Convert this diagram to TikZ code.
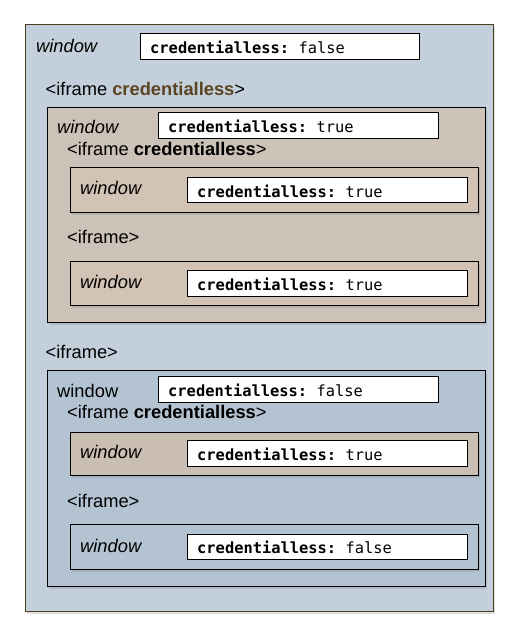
\documentclass[tikz,border=0pt]{standalone}
\usepackage{fontspec}
\setmainfont{Liberation Sans}
\newfontfamily\monof{DejaVu Sans Mono}
\usetikzlibrary{shadows}
\definecolor{outerblue}{HTML}{C3CFDB}
\definecolor{brownA}{HTML}{CDC2B8}
\definecolor{brownB}{HTML}{D3C3B4}
\definecolor{brownC}{HTML}{CBBFB4}
\definecolor{blueB}{HTML}{B3C3D2}
\definecolor{outline}{HTML}{4D3D1F}
\definecolor{kwbrown}{HTML}{5B4420}
\tikzset{
  frame/.style={draw=black, line width=0.8pt, anchor=north west, inner sep=0pt,
    drop shadow={shadow xshift=1.5pt, shadow yshift=-2.5pt, opacity=0.25}},
  valbox/.style={draw=black, fill=white, line width=0.8pt, anchor=north west, inner sep=0pt,
    minimum width=280pt, minimum height=26pt},
  lab/.style={anchor=base west, inner sep=0pt, font=\fontsize{18.3}{20}\selectfont},
  wlab/.style={lab, font=\fontsize{18.3}{20}\selectfont\itshape},
  mono/.style={anchor=base west, inner sep=0pt, font=\fontsize{15.4}{18}\selectfont\monof},
}
\newcommand{\cred}[1]{\textbf{credentialless:}~#1}
\begin{document}
\begin{tikzpicture}[x=1pt,y=-1pt]
\useasboundingbox (0,0) rectangle (504,637);
% outer window
\node[frame, draw=outline, fill=outerblue, minimum width=468pt, minimum height=587pt] (outer) at (25,24) {};
\node[valbox, minimum width=279pt] (v0) at (140,33) {};
\node[wlab] (w0) at (36,52) {window};
\node[mono] (t0) at (150,53) {\cred{false}};
\node[lab] (if1) at (45.5,95) {<iframe \textcolor{kwbrown}{\textbf{credentialless}}>};
% box 1
\node[frame, fill=brownA, minimum width=438pt, minimum height=215pt] (b1) at (47,107) {};
\node[valbox] (v1) at (158,112) {};
\node[wlab] (w1) at (57,133) {window};
\node[mono] (t1) at (168,132) {\cred{true}};
\node[lab] (if11) at (67,155) {<iframe \textbf{credentialless}>};
\node[frame, fill=brownB, minimum width=408pt, minimum height=45pt] (b11) at (70,167) {};
\node[valbox, minimum height=25pt] (v11) at (187,177) {};
\node[wlab] (w11) at (80,194) {window};
\node[mono] (t11) at (197,197) {\cred{true}};
\node[lab] (if12) at (67,243) {<iframe>};
\node[frame, fill=brownB, minimum width=408pt, minimum height=44pt] (b12) at (70,261) {};
\node[valbox] (v12) at (187,270) {};
\node[wlab] (w12) at (80,288) {window};
\node[mono] (t12) at (197,290) {\cred{true}};
% box 2
\node[lab] (if2) at (45.5,358) {<iframe>};
\node[frame, fill=blueB, minimum width=438pt, minimum height=216pt] (b2) at (47,370) {};
\node[valbox] (v2) at (158,376) {};
\node[lab] (w2) at (57,397) {window};
\node[mono] (t2) at (168,396) {\cred{false}};
\node[lab] (if21) at (67,418) {<iframe \textbf{credentialless}>};
\node[frame, fill=brownC, minimum width=408pt, minimum height=43pt] (b21) at (70,432) {};
\node[valbox] (v21) at (187,440) {};
\node[wlab] (w21) at (80,458) {window};
\node[mono] (t21) at (197,460) {\cred{true}};
\node[lab] (if22) at (67,507) {<iframe>};
\node[frame, fill=blueB, minimum width=408pt, minimum height=45pt] (b22) at (70,524) {};
\node[valbox, minimum height=25pt] (v22) at (187,534) {};
\node[wlab] (w22) at (80,552) {window};
\node[mono] (t22) at (197,553) {\cred{false}};
\end{tikzpicture}
\end{document}
